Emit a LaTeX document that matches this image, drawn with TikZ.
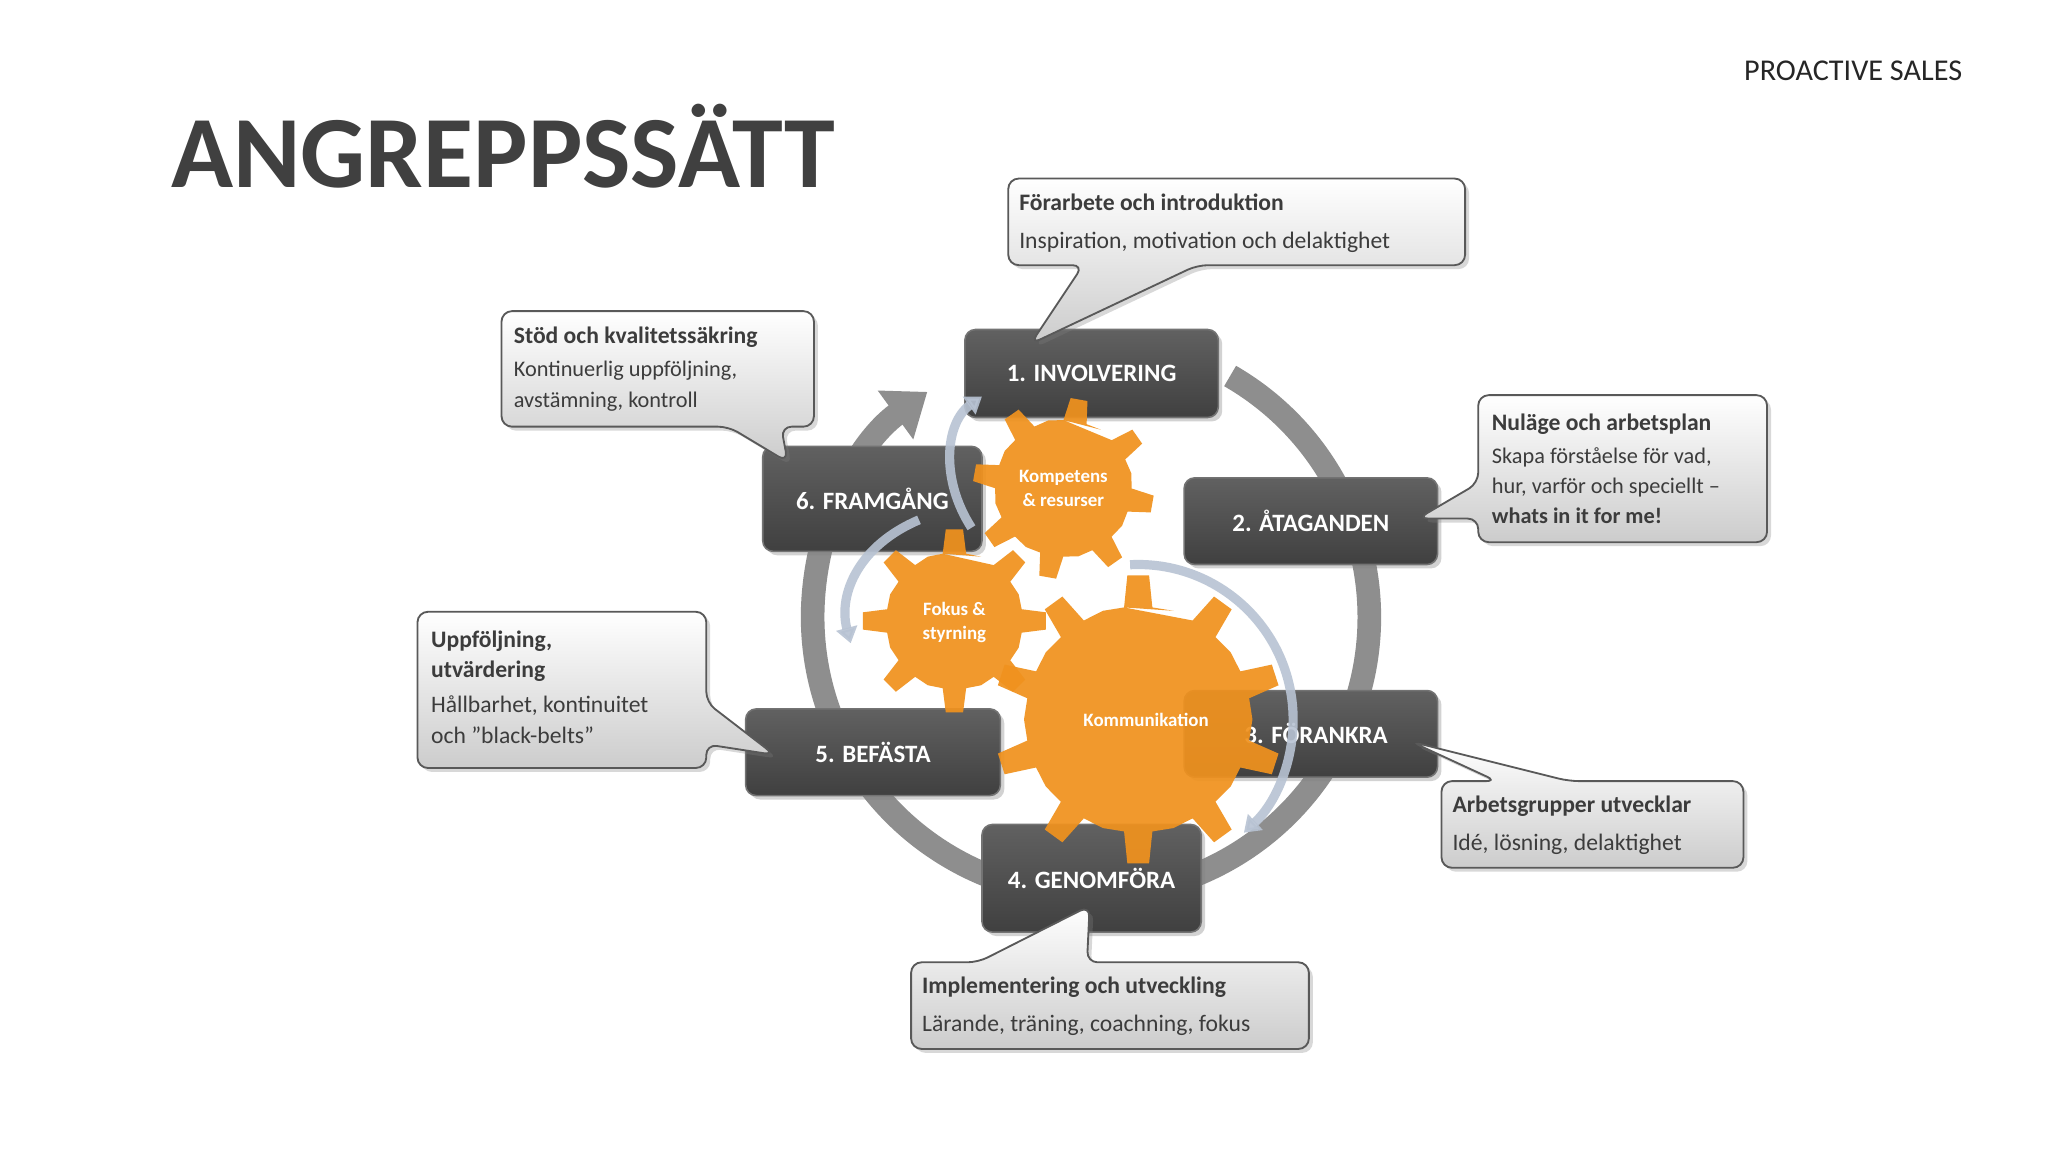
\documentclass[tikz,border=0pt]{standalone}
\usepackage{fontspec}
\setmainfont{Carlito}
\usetikzlibrary{calc,arrows.meta,shadows}
\definecolor{txt}{HTML}{3C3C3C}
\definecolor{gearc}{HTML}{F0921E}
\definecolor{ringc}{HTML}{8E8E8E}
\definecolor{flowc}{HTML}{B8C3D3}
\tikzset{
  stepbox/.style={rounded corners=4pt,top color=black!62,bottom color=black!75,draw=black!55,line width=0.6pt,
    text=white,font=\fontsize{9.5}{11}\selectfont\bfseries,drop shadow={opacity=0.35,shadow xshift=1.5pt,shadow yshift=-1.5pt}},
  callout/.style={rounded corners=4pt,top color=white,bottom color=black!20,draw=black!65,line width=0.7pt,
    drop shadow={opacity=0.3,shadow xshift=1.5pt,shadow yshift=-1.5pt}},
  calltext/.style={anchor=north west,align=left,text=txt,font=\fontsize{9}{11.5}\selectfont,inner sep=0pt},
  geartext/.style={text=white,font=\fontsize{7.2}{9}\selectfont\bfseries,align=center},
  gearfill/.style={fill=gearc,opacity=0.93},
  flow/.style={draw=flowc,line width=3.5pt,-{Triangle[width=8pt,length=6pt]},opacity=0.9},
}
% cx cy rin rout n rot baseHalf tipHalf (fractions of step)
\newcommand{\mygear}[8]{%
  \fill[gearfill] ($(#1,#2)+({#6-#7*360/#5}:#3)$)
  \foreach \i in {1,...,#5}{
    -- ($(#1,#2)+({#6+\i*360/#5-#7*360/#5}:#3)$)
    -- ($(#1,#2)+({#6+\i*360/#5-#8*360/#5}:#4)$)
    -- ($(#1,#2)+({#6+\i*360/#5+#8*360/#5}:#4)$)
    -- ($(#1,#2)+({#6+\i*360/#5+#7*360/#5}:#3)$)
    -- ($(#1,#2)+({#6+\i*360/#5+0.5*360/#5}:#3+1)$)
  } -- cycle;}
\begin{document}
\begin{tikzpicture}[x=0.5pt,y=-0.5pt]
\path[use as bounding box,fill=white] (0,0) rectangle (1560,877);
\node[anchor=base west,inner sep=0pt,text=black!75,font=\fontsize{39}{39}\selectfont\bfseries] (title) at (130,143) {ANGREPPSSÄTT};
\node[anchor=base east,inner sep=0pt,text=black!85,font=\fontsize{11.5}{12}\selectfont] (brand) at (1495,61) {PROACTIVE SALES};
% ring
\coordinate (rc) at (831,470);
\draw[ringc,line width=9pt,-{Triangle[width=22pt,length=15pt]}] ($(rc)+(-60:212)$) arc[start angle=-60,end angle=234,radius=212];
% boxes
\node[stepbox,minimum width=96.5pt,minimum height=33.5pt] (b1) at (831.5,284.5) {1. INVOLVERING};
\node[stepbox,minimum width=96.5pt,minimum height=33pt] (b2) at (998.5,397) {2. ÅTAGANDEN};
\node[stepbox,minimum width=96.5pt,minimum height=33pt] (b3) at (998.5,559) {\hspace*{4pt}3. FÖRANKRA};
\node[stepbox,minimum width=83.5pt,minimum height=41pt] (b4) at (831.5,669) {4. GENOMFÖRA};
\node[stepbox,minimum width=97pt,minimum height=33pt] (b5) at (665,573) {5. BEFÄSTA};
\node[stepbox,minimum width=83.5pt,minimum height=40pt] (b6) at (664.5,380) {6. FRAMGÅNG};
% gears
\mygear{810}{372}{52}{69}{8}{-80}{0.22}{0.12}
\mygear{727}{473}{52}{70}{8}{-90}{0.22}{0.12}
\mygear{867}{548}{86}{110}{10}{-90}{0.2}{0.12}
\node[geartext] (g1) at (810,372) {Kompetens\\\& resurser};
\node[geartext] (g2) at (727,474) {Fokus \&\\styrning};
\node[geartext] (g3) at (873,548) {Kommunikation};
% flow arrows
\coordinate (fa1) at (740,402); \coordinate (fa2) at (748,302);
\coordinate (fb1) at (700,396); \coordinate (fb2) at (648,490);
\draw[flow] (fa1) .. controls (716,365) and (720,322) .. (fa2);
\draw[flow] (fb1) .. controls (655,415) and (638,452) .. (fb2);
\coordinate (fc1) at ($(867,548)+(-93:118)$);
\draw[flow] (fc1) arc[start angle=-93,end angle=47,radius=118];
% callouts
\draw[callout] (768,136) -- (1116,136) -- (1116,202) -- (912,202) -- (785,262) -- (825,202) -- (768,202) -- cycle;
\node[calltext] (ta) at (776,147) {\textbf{Förarbete och introduktion}\\[3pt]Inspiration, motivation och delaktighet};
\draw[callout] (382,237) -- (620,237) -- (620,325) -- (595,325) -- (600,352) -- (555,325) -- (382,325) -- cycle;
\node[calltext] (tb) at (391,249) {\textbf{Stöd och kvalitetssäkring}\\[1pt]\fontsize{8.5}{11}\selectfont Kontinuerlig uppföljning,\\\fontsize{8.5}{11}\selectfont avstämning, kontroll};
\draw[callout] (1126,301) -- (1346,301) -- (1346,413) -- (1126,413) -- (1126,395) -- (1080,395) -- (1126,368) -- cycle;
\node[calltext] (tc) at (1136,315) {\textbf{Nuläge och arbetsplan}\\[1pt]\fontsize{8.5}{11}\selectfont Skapa förståelse för vad,\\\fontsize{8.5}{11}\selectfont hur, varför och speciellt –\\\fontsize{8.5}{11}\selectfont\bfseries whats in it for me!};
\draw[callout] (318,466) -- (538,466) -- (538,535) -- (590,575) -- (538,567) -- (538,585) -- (318,585) -- cycle;
\node[calltext] (td) at (328,480) {\textbf{Uppföljning,}\\\textbf{utvärdering}\\[2pt]Hållbarhet, kontinuitet\\och ”black-belts”};
\draw[callout] (1098,595) -- (1140,595) -- (1075,565) -- (1195,595) -- (1328,595) -- (1328,661) -- (1098,661) -- cycle;
\node[calltext] (te) at (1106,606) {\textbf{Arbetsgrupper utvecklar}\\[3pt]Idé, lösning, delaktighet};
\draw[callout] (694,733) -- (745,733) -- (830,690) -- (828,733) -- (997,733) -- (997,799) -- (694,799) -- cycle;
\node[calltext] (tf) at (702,744) {\textbf{Implementering och utveckling}\\[3pt]Lärande, träning, coachning, fokus};
\end{tikzpicture}
\end{document}
